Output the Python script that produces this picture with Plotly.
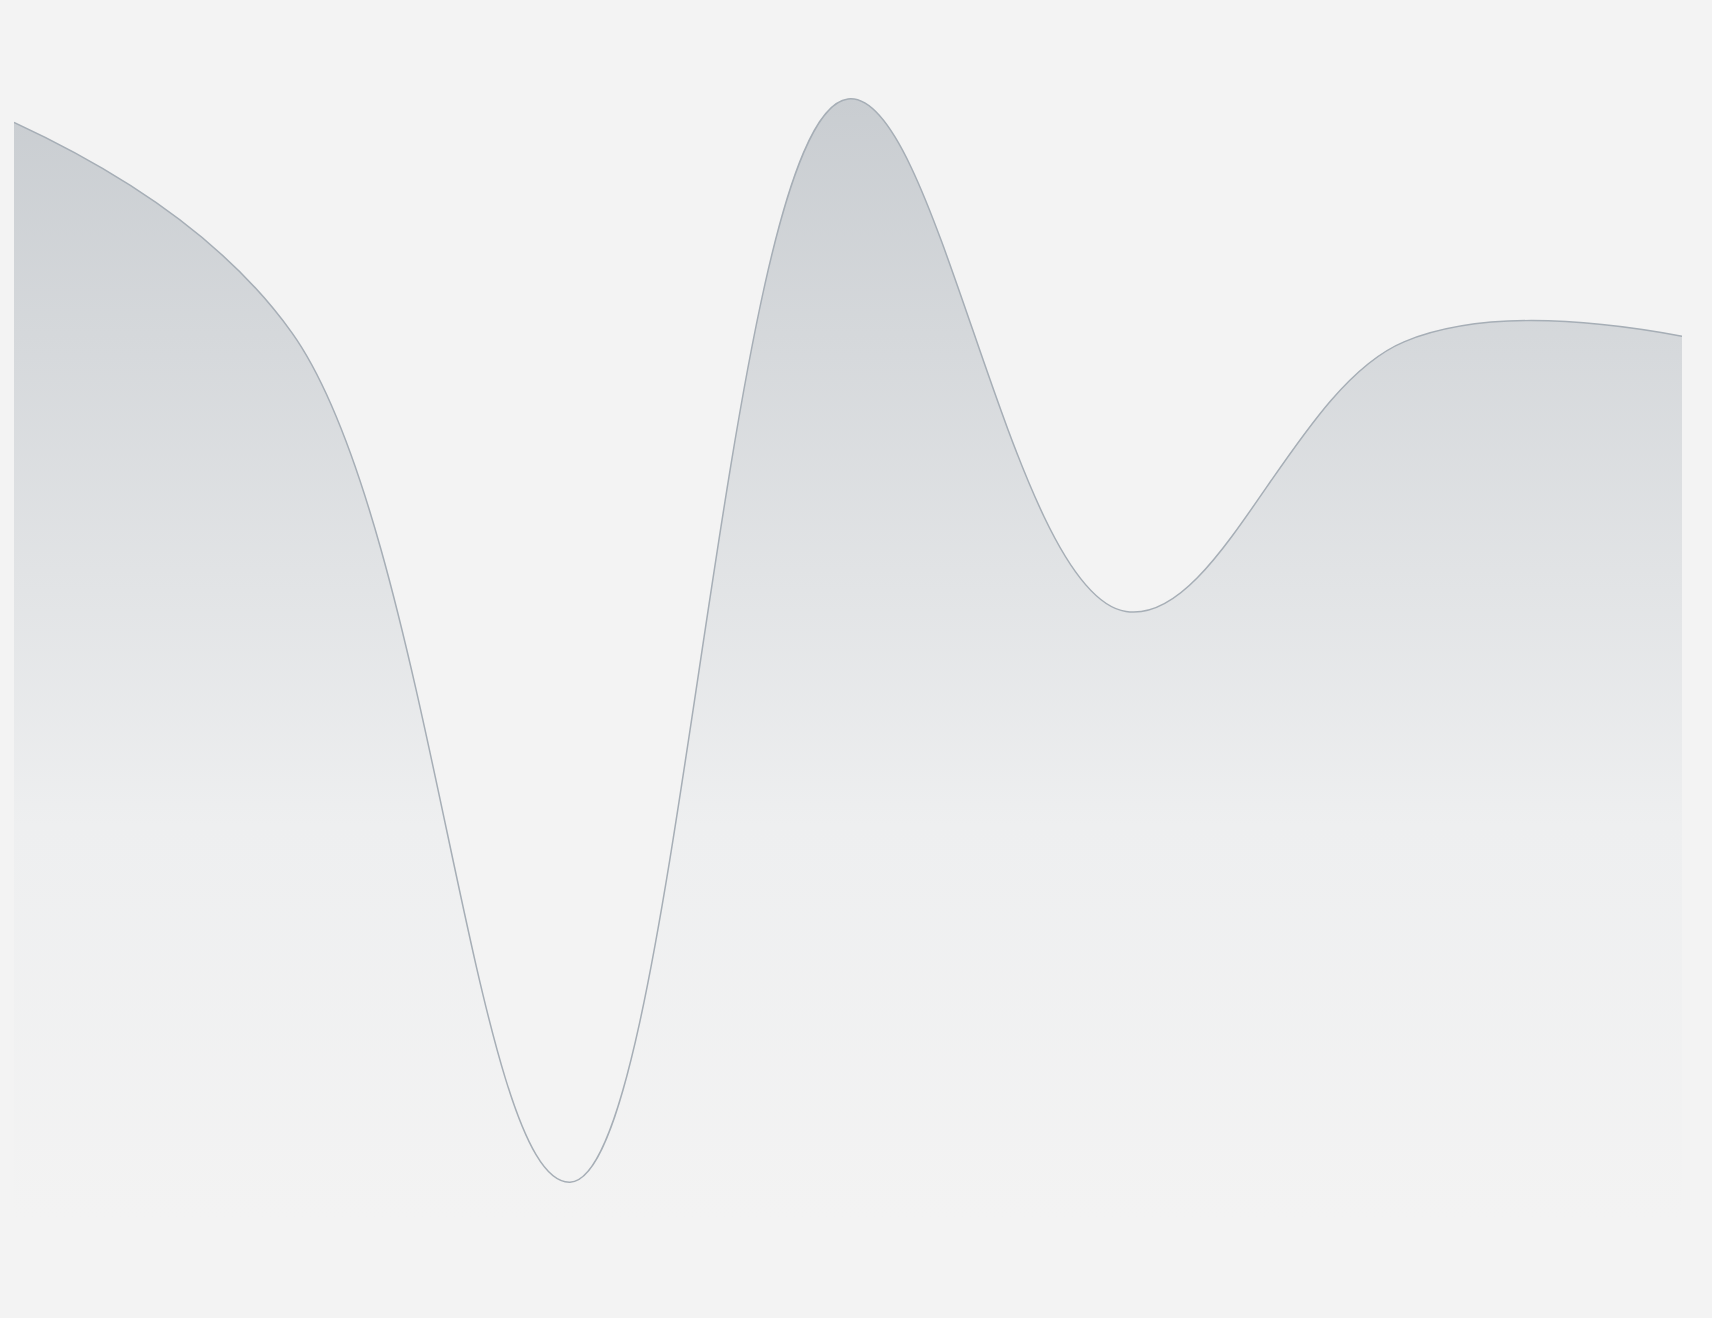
import plotly.graph_objects as go

# Seven evenly spaced samples
steps = [0, 1, 2, 3, 4, 5, 6]
values = [97.9, 79.1, 3.2, 100.0, 54.2, 78.3, 78.8]

bg = '#f3f3f3'

fig = go.Figure()

fig.add_trace(go.Scatter(
    x=steps,
    y=values,
    mode='lines',
    line=dict(color='#a6aeb6', width=1.5, shape='spline', smoothing=1.1),
    fill='tozeroy',
    fillgradient=dict(
        type='vertical',
        colorscale=[[0, 'rgba(243,243,243,1)'], [0.35, '#eeeff0'], [1, '#c9cdd1']],
    ),
    hoverinfo='skip',
))

fig.update_layout(
    width=1712,
    height=1318,
    paper_bgcolor=bg,
    plot_bgcolor=bg,
    showlegend=False,
    margin=dict(l=14, r=30, t=0, b=100),
    xaxis=dict(range=[0, 6], visible=False, fixedrange=True),
    yaxis=dict(range=[0, 108.85], visible=False, fixedrange=True),
)

# drop the browser's default page margin so the chart fills the window
fig.write_html(
    "out.html",
    config={'displayModeBar': False},
    post_script="document.body.style.margin='0';document.body.style.background='#f3f3f3';",
)
